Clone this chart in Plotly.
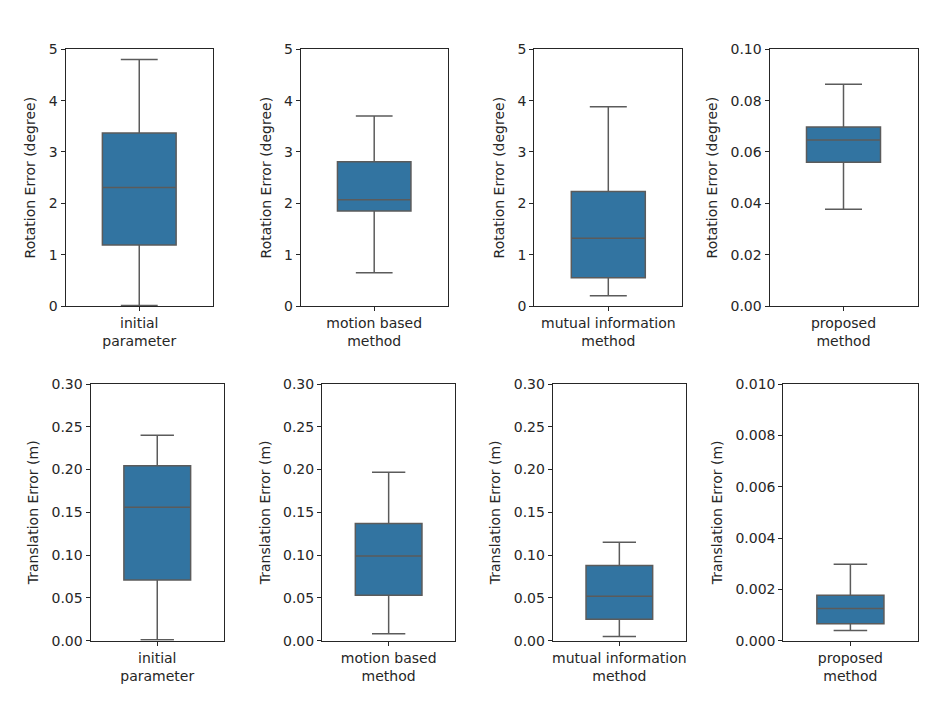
import plotly.graph_objects as go

W, H = 938, 701

methods = ["initial<br>parameter", "motion based<br>method", "mutual information<br>method", "proposed<br>method"]

# Rotation error (degree): lower whisker, Q1, median, Q3, upper whisker
rot_low = [0.01, 0.65, 0.20, 0.0377]
rot_q1 = [1.19, 1.85, 0.55, 0.056]
rot_med = [2.31, 2.07, 1.32, 0.0647]
rot_q3 = [3.37, 2.81, 2.23, 0.0697]
rot_high = [4.80, 3.70, 3.88, 0.0864]

# Translation error (m)
tr_low = [0.001, 0.008, 0.005, 0.0004]
tr_q1 = [0.071, 0.053, 0.025, 0.00066]
tr_med = [0.156, 0.099, 0.052, 0.00125]
tr_q3 = [0.2045, 0.137, 0.088, 0.00177]
tr_high = [0.240, 0.197, 0.115, 0.00298]

rot_ranges = [[0, 5], [0, 5], [0, 5], [0, 0.1]]
rot_dtick = [1, 1, 1, 0.02]
rot_fmt = ["d", "d", "d", ".2f"]
tr_ranges = [[0, 0.3], [0, 0.3], [0, 0.3], [0, 0.01]]
tr_dtick = [0.05, 0.05, 0.05, 0.002]
tr_fmt = [".2f", ".2f", ".2f", ".3f"]

# pixel extents of panels
top_x = [(65.5, 213.0), (300.7, 447.7), (534.3, 682.3), (769.5, 917.5)]
bot_x = [(90.5, 224.0), (322.0, 455.3), (552.7, 686.0), (783.3, 917.5)]
top_y = (49.3, 306.0)
bot_y = (384.0, 640.7)

FILL = "#3274a1"
LINE = "#5b5b5b"
TXT = "#262626"
FONT = "DejaVu Sans"
FS = 14

fig = go.Figure()
layout = {}

def add_panel(idx, xpx, ypx, low, q1, med, q3, high, rng, dt, fmt, ytitle, label):
    n = "" if idx == 1 else str(idx)
    fig.add_trace(go.Box(
        x=[0], lowerfence=[low], q1=[q1], median=[med], q3=[q3], upperfence=[high],
        width=0.5, whiskerwidth=0.5, fillcolor=FILL,
        line=dict(color=LINE, width=1.5), boxpoints=False, showlegend=False,
        xaxis="x" + n, yaxis="y" + n, hoverinfo="skip",
    ))
    layout["xaxis" + n] = dict(
        domain=[xpx[0] / W, xpx[1] / W], anchor="y" + n, range=[-0.5, 0.5],
        tickvals=[0], ticktext=[label], ticks="outside", ticklen=4, tickwidth=1,
        tickcolor=TXT, showline=True, linecolor=TXT, linewidth=1, mirror=True,
        showgrid=False, zeroline=False, fixedrange=True, automargin=False,
        tickfont=dict(family=FONT, size=FS, color=TXT),
    )
    layout["yaxis" + n] = dict(
        domain=[1 - ypx[1] / H, 1 - ypx[0] / H], anchor="x" + n, range=rng,
        dtick=dt, tick0=0, tickformat=fmt, ticks="outside", ticklen=4, tickwidth=1,
        tickcolor=TXT, showline=True, linecolor=TXT, linewidth=1, mirror=True,
        showgrid=False, zeroline=False, automargin=False,
        tickfont=dict(family=FONT, size=FS, color=TXT),
        title=dict(text=ytitle, font=dict(family=FONT, size=FS, color=TXT), standoff=9),
    )

for i in range(4):
    add_panel(i + 1, top_x[i], top_y, rot_low[i], rot_q1[i], rot_med[i], rot_q3[i], rot_high[i],
              rot_ranges[i], rot_dtick[i], rot_fmt[i], "Rotation Error (degree)", methods[i])
for i in range(4):
    add_panel(i + 5, bot_x[i], bot_y, tr_low[i], tr_q1[i], tr_med[i], tr_q3[i], tr_high[i],
              tr_ranges[i], tr_dtick[i], tr_fmt[i], "Translation Error (m)", methods[i])

fig.update_layout(
    width=W, height=H, margin=dict(l=0, r=0, t=0, b=0),
    paper_bgcolor="white", plot_bgcolor="white",
    font=dict(family=FONT, size=FS, color=TXT),
    **layout,
)

fig.write_html("out.html", config={"displayModeBar": False},
               post_script="document.body.style.margin='0';")
